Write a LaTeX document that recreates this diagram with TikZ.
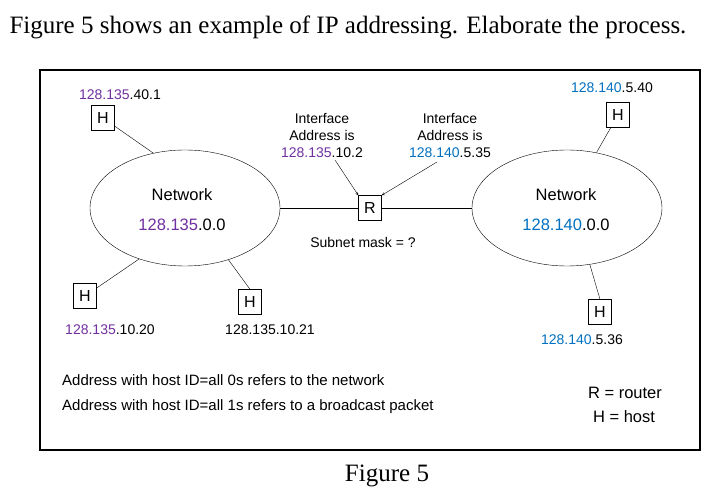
\documentclass[tikz,border=0pt]{standalone}
\usepackage{fontspec}
\setmainfont{Liberation Sans}
\newfontfamily\serif{Liberation Serif}
\usetikzlibrary{shapes.geometric}
\definecolor{pur}{RGB}{112,48,160}
\definecolor{blu}{RGB}{0,112,192}
\begin{document}
\begin{tikzpicture}[x=1pt,y=-1pt,
  hbox/.style={draw,fill=white,minimum width=23pt,minimum height=25pt,inner sep=0pt,font=\fontsize{16}{18}\selectfont},
  net/.style={draw,ellipse,minimum width=190pt,minimum height=116pt},
  lbl/.style={font=\fontsize{14}{17}\selectfont,inner sep=0pt},
  note/.style={font=\fontsize{15}{18}\selectfont,inner sep=0pt,anchor=west},
  big/.style={font=\fontsize{16.5}{19}\selectfont,inner sep=0pt}]
\useasboundingbox (0,0) rectangle (723,502);
\node[font=\serif\fontsize{25}{28}\selectfont] (title) at (348,27) {Figure 5 shows an example of IP addressing. Elaborate the process.};
\draw[line width=2pt] (40,70) rectangle (700,450);
\node[font=\serif\fontsize{25}{28}\selectfont] (cap) at (387,476) {Figure 5};
\node[net] (n1) at (185,208) {};
\node[net] (n2) at (567,208) {};
\node[hbox] (r) at (370,208) {R};
\draw (n1.east) -- (r) -- (n2.west);
\node[hbox] (h1) at (103,118) {H};
\node[hbox] (h2) at (85,296) {H};
\node[hbox] (h3) at (250,302) {H};
\node[hbox] (h4) at (618,115) {H};
\node[hbox] (h5) at (600,312) {H};
\draw (h1) -- (n1.120);
\draw (h2) -- (n1.228);
\draw (h3.north) -- (n1.-50);
\draw (h4) -- (n2.62);
\draw (h5.north) -- (n2.-68);
\node[lbl] (a1) at (120,95) {\textcolor{pur}{128.135}.40.1};
\node[lbl] (a4) at (612,88) {\textcolor{blu}{128.140}.5.40};
\node[lbl] (a2) at (110,330) {\textcolor{pur}{128.135}.10.20};
\node[lbl] (a3) at (270,330) {128.135.10.21};
\node[lbl] (a5) at (582,340) {\textcolor{blu}{128.140}.5.36};
\node[lbl,align=center] (i1) at (322,136) {Interface\\Address is\\\textcolor{pur}{128.135}.10.2};
\node[lbl,align=center] (i2) at (450,136) {Interface\\Address is\\\textcolor{blu}{128.140}.5.35};
\coordinate (s1) at (335,160);
\coordinate (s2) at (437,162);
\draw[->,>=stealth] (s1) -- (r.north west);
\draw[->,>=stealth] (s2) -- (r.north east);
\node[lbl] (sm) at (363,242) {Subnet mask = ?};
\node[big] (nt1) at (182,195) {Network};
\node[big] (ad1) at (182,225) {\textcolor{pur}{128.135}.0.0};
\node[big] (nt2) at (566,195) {Network};
\node[big] (ad2) at (566,225) {\textcolor{blu}{128.140}.0.0};
\node[note] (t1) at (62,380) {Address with host ID=all 0s refers to the network};
\node[note] (t2) at (62,407) {Address with host ID=all 1s refers to a broadcast packet};
\node[big] (k1) at (625,393) {R = router};
\node[big] (k2) at (624,417) {H = host};
\end{tikzpicture}
\end{document}
